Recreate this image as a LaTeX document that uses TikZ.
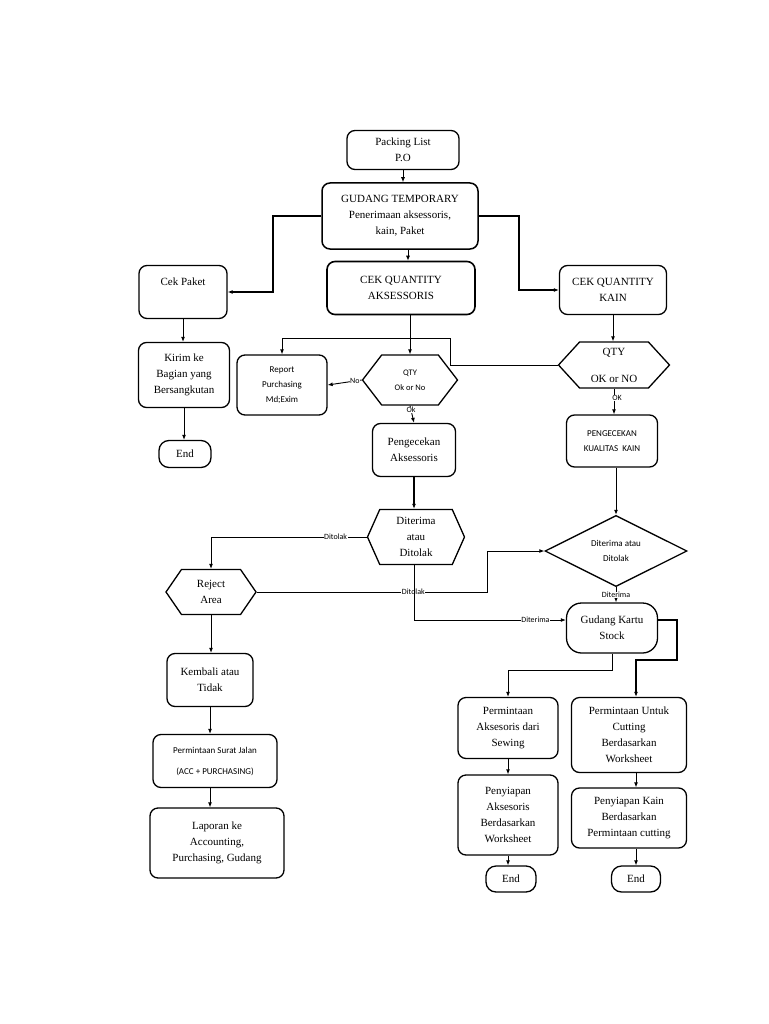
\documentclass[tikz,border=0pt]{standalone}
\usepackage{fontspec}
\setmainfont{Liberation Serif}
\newfontfamily\calfont{Carlito}
\usetikzlibrary{shapes.geometric,shapes.symbols,arrows.meta}
\begin{document}
\begin{tikzpicture}[x=1pt,y=-1pt,
 box/.style={draw,line width=1.3pt,rounded corners=8pt,align=center,inner sep=2pt,font=\fontsize{11}{16}\selectfont},
 sbox/.style={box,font=\calfont\fontsize{9}{15}\selectfont},
 hexa/.style={draw,line width=1.3pt,shape=signal,signal to=east and west,align=center,inner sep=1pt,font=\fontsize{11}{16}\selectfont},
 endbox/.style={box,rounded corners=10pt,minimum width=50pt,minimum height=26pt},
 arr/.style={-{Latex[length=5pt,width=4pt]},line width=0.9pt},
 tarr/.style={arr,line width=1.7pt},
 lbl/.style={fill=white,inner sep=0.5pt,font=\calfont\fontsize{8}{9}\selectfont}]
\useasboundingbox[fill=white] (0,0) rectangle (768,1024);

% top
\node[box,minimum width=112pt,minimum height=39pt] (pack) at (403,150) {Packing List\\P.O};
\node[box,minimum width=156pt,minimum height=66pt,line width=1.5pt] (gt) at (400,216) {GUDANG TEMPORARY\\Penerimaan aksessoris,\\kain, Paket};
\node[box,minimum width=148pt,minimum height=53pt,line width=1.6pt] (cqa) at (401,288) {CEK QUANTITY\\AKSESSORIS};
\node[box,minimum width=88pt,minimum height=53pt] (cp) at (183,292) {Cek Paket\\ \strut};
\node[box,minimum width=107pt,minimum height=49pt] (cqk) at (613,290) {CEK QUANTITY\\KAIN};

% left column
\node[box,minimum width=91pt,minimum height=65pt] (kirim) at (184,375) {Kirim ke\\Bagian yang\\Bersangkutan};
\node[endbox,minimum width=52pt,minimum height=27pt] (end1) at (185,454) {End};

% middle upper
\node[sbox,minimum width=90pt,minimum height=60pt] (rep) at (282,385) {Report\\Purchasing\\Md;Exim};
\node[hexa,signal pointer angle=105,minimum width=95pt,minimum height=50pt,font=\calfont\fontsize{8.5}{15}\selectfont] (qty1) at (410,380) {QTY\\Ok or No};
\node[box,minimum width=83pt,minimum height=53pt] (pa) at (414,450) {Pengecekan\\Aksessoris};

% right upper
\node[hexa,signal pointer angle=95,minimum width=111pt,minimum height=46pt] (qty2) at (614,365) {QTY\\[11pt]OK or NO};
\node[sbox,minimum width=91pt,minimum height=52pt] (pkk) at (612,441) {PENGECEKAN\\KUALITAS~~KAIN};

% decisions
\node[hexa,signal pointer angle=132,minimum width=97pt,minimum height=55pt] (dt1) at (416,537) {Diterima\\atau\\Ditolak};
\node[draw,line width=1.3pt,shape=diamond,minimum width=142pt,minimum height=62pt,inner sep=0pt,align=center,font=\calfont\fontsize{9}{15}\selectfont] (dt2) at (616,551) {Diterima atau\\Ditolak};
\node[hexa,signal pointer angle=111,minimum width=90pt,minimum height=45pt] (ra) at (211,592) {Reject\\Area};
\node[box,rounded corners=15pt,minimum width=91pt,minimum height=50pt] (gks) at (612,628) {Gudang Kartu\\Stock};

% left lower
\node[box,minimum width=86pt,minimum height=53pt] (kat) at (210,680) {Kembali atau\\Tidak};
\node[sbox,minimum width=124pt,minimum height=53pt,font=\calfont\fontsize{9}{13}\selectfont] (sj) at (215,761) {Permintaan Surat Jalan\\[8pt](ACC + PURCHASING)};
\node[box,minimum width=134pt,minimum height=70pt] (lap) at (217,843) {Laporan ke\\Accounting,\\Purchasing, Gudang};

% right lower
\node[box,minimum width=100pt,minimum height=61pt] (pas) at (508,728) {Permintaan\\Aksesoris dari\\Sewing};
\node[box,minimum width=115pt,minimum height=75pt] (puc) at (629,735) {Permintaan Untuk\\Cutting\\Berdasarkan\\Worksheet};
\node[box,minimum width=100pt,minimum height=80pt] (pya) at (508,815) {Penyiapan\\Aksesoris\\Berdasarkan\\Worksheet};
\node[box,minimum width=115pt,minimum height=60pt] (pyk) at (629,818) {Penyiapan Kain\\Berdasarkan\\Permintaan cutting};
\node[endbox] (end2) at (511,879) {End};
\node[endbox,minimum width=49pt] (end3) at (636,879) {End};

% connectors
\draw[arr] (pack.south) -- (pack.south |- gt.north);
\draw[arr] ([xshift=8pt]gt.south) -- ([xshift=8pt]gt.south |- cqa.north);
\draw[tarr] (gt.west) -- ++(-48,0) |- (cp.east);
\draw[tarr] (gt.east) -- ++(40,0) |- (cqk.west);
\draw[arr] (cp.south) -- (cp.south |- kirim.north);
\draw[arr] (kirim.south) -- (kirim.south |- end1.north);
\draw[arr] (qty1.north |- cqa.south) -- (qty1.north);
\draw[arr] (qty1.west) -- node[lbl,pos=0.2]{No} (rep.east);
\draw[arr] (qty1.south) -- node[lbl,pos=0.25]{Ok} (pa.north);
\draw[arr] (qty2.west) -| (450,338) -| (rep.north);
\draw[arr] (cqk.south) -- (cqk.south |- qty2.north);
\draw[arr] (qty2.south) -- node[lbl,pos=0.35,xshift=3pt]{OK} (qty2.south |- pkk.north);
\draw[tarr] (pa.south) -- (pa.south |- dt1.north);
\draw[arr] (dt1.west) -| node[lbl,pos=0.1]{Ditolak} (ra.north);
\draw[arr] (ra.east) -- node[lbl,pos=0.68]{Ditolak} (487,592) |- (dt2.west);
\draw[arr] ([xshift=-2pt]dt1.south) |- node[lbl,pos=0.9]{Diterima} ([yshift=8pt]gks.west);
\draw[arr] (pkk.south -| dt2.north) -- (dt2.north);
\draw[arr] (dt2.south) -- node[lbl]{Diterima} (dt2.south |- gks.north);
\draw[arr] (gks.south) -- ++(0,17) -| (pas.north);
\draw[tarr] ([yshift=8pt]gks.east) -- (677,620) -- (677,660) -| ([xshift=7pt]puc.north);
\draw[arr] (ra.south) -- (ra.south |- kat.north);
\draw[arr] (kat.south) -- (kat.south |- sj.north);
\draw[arr] (kat.south |- sj.south) -- (kat.south |- lap.north);
\draw[arr] (pas.south) -- (pas.south |- pya.north);
\draw[arr] (pya.south) -- (pya.south |- end2.north);
\draw[arr] ([xshift=7pt]puc.south) -- ([xshift=7pt]puc.south |- pyk.north);
\draw[arr] ([xshift=7pt]pyk.south) -- ([xshift=7pt]pyk.south |- end3.north);
\end{tikzpicture}
\end{document}
